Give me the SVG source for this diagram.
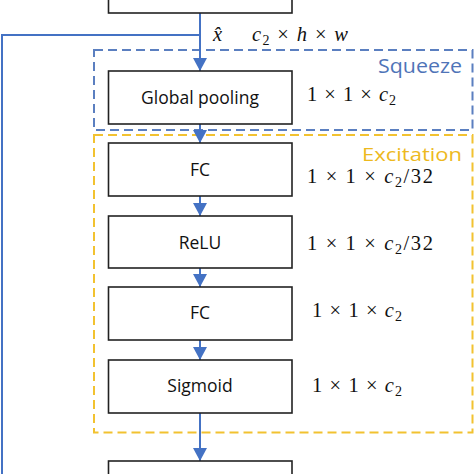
<svg xmlns="http://www.w3.org/2000/svg" width="474" height="474" viewBox="0 0 474 474">
<style>
.box{fill:#fff;stroke:#222;stroke-width:1.6}
.lbl{font-family:"Open Sans","Liberation Sans",sans-serif;font-size:17.5px;fill:#111;text-anchor:middle}
.math{font-family:"Liberation Serif","DejaVu Serif",serif;font-size:20.5px;fill:#111}
.it{font-style:italic}
.con{stroke:#4472C4;stroke-width:2;fill:none}
</style>
<defs>
<marker id="ah" markerUnits="userSpaceOnUse" markerWidth="14" markerHeight="14" refX="13" refY="7" orient="auto">
<path d="M0,0 L13,7 L0,14 Z" fill="#4472C4"/>
</marker>
</defs>
<g id="squeeze">
<rect x="94" y="50" width="378.5" height="80" fill="none" stroke="#5B7FC0" stroke-width="2" stroke-dasharray="9,5"/>
<text x="378" y="73" font-family="Open Sans,Liberation Sans,sans-serif" font-size="20" fill="#4F74B8" textLength="84" lengthAdjust="spacingAndGlyphs">Squeeze</text>
</g>
<g id="excitation">
<rect x="94" y="135" width="378.5" height="297.5" fill="none" stroke="#F2C230" stroke-width="2" stroke-dasharray="9,5"/>
<text x="362" y="160.5" font-family="Open Sans,Liberation Sans,sans-serif" font-size="19" fill="#EDB91E" textLength="100" lengthAdjust="spacingAndGlyphs">Excitation</text>
</g>
<g id="connectors">
<path class="con" d="M200,35 H2 V474"/>
<line class="con" x1="200" y1="13" x2="200" y2="71" marker-end="url(#ah)"/>
<line class="con" x1="200" y1="124" x2="200" y2="143" marker-end="url(#ah)"/>
<line class="con" x1="200" y1="196" x2="200" y2="216" marker-end="url(#ah)"/>
<line class="con" x1="200" y1="268" x2="200" y2="287" marker-end="url(#ah)"/>
<line class="con" x1="200" y1="340" x2="200" y2="360" marker-end="url(#ah)"/>
<line class="con" x1="200" y1="413" x2="200" y2="461" marker-end="url(#ah)"/>
</g>
<g id="top">
<rect class="box" x="108.5" y="-10" width="183.5" height="23"/>
</g>
<g id="xhat">
<text class="math it" x="213" y="41">x̂</text>
<text class="math" x="252" y="41" textLength="96" lengthAdjust="spacing"><tspan class="it">c</tspan><tspan font-size="14" dy="4">2</tspan><tspan dy="-4"> × </tspan><tspan class="it">h</tspan> × <tspan class="it">w</tspan></text>
</g>
<g id="global-pooling">
<rect class="box" x="108.5" y="71" width="183.5" height="53"/>
<text class="lbl" x="200" y="104">Global pooling</text>
<text class="math" x="307" y="100.5" textLength="89" lengthAdjust="spacing">1 × 1 × <tspan class="it">c</tspan><tspan font-size="14" dy="4">2</tspan></text>
</g>
<g id="fc1">
<rect class="box" x="108.5" y="143" width="183.5" height="53"/>
<text class="lbl" x="200" y="176">FC</text>
<text class="math" x="307" y="182.5" textLength="126" lengthAdjust="spacing">1 × 1 × <tspan class="it">c</tspan><tspan font-size="14" dy="4">2</tspan><tspan dy="-4">/32</tspan></text>
</g>
<g id="relu">
<rect class="box" x="108.5" y="216" width="183.5" height="52"/>
<text class="lbl" x="200" y="249">ReLU</text>
<text class="math" x="307" y="250" textLength="126" lengthAdjust="spacing">1 × 1 × <tspan class="it">c</tspan><tspan font-size="14" dy="4">2</tspan><tspan dy="-4">/32</tspan></text>
</g>
<g id="fc2">
<rect class="box" x="108.5" y="287" width="183.5" height="53"/>
<text class="lbl" x="200" y="319">FC</text>
<text class="math" x="312" y="317" textLength="90" lengthAdjust="spacing">1 × 1 × <tspan class="it">c</tspan><tspan font-size="14" dy="4">2</tspan></text>
</g>
<g id="sigmoid">
<rect class="box" x="108.5" y="360" width="183.5" height="53"/>
<text class="lbl" x="200" y="392">Sigmoid</text>
<text class="math" x="312" y="392" textLength="90" lengthAdjust="spacing">1 × 1 × <tspan class="it">c</tspan><tspan font-size="14" dy="4">2</tspan></text>
</g>
<g id="bottom">
<rect class="box" x="108.5" y="461" width="183.5" height="30"/>
</g>
</svg>
